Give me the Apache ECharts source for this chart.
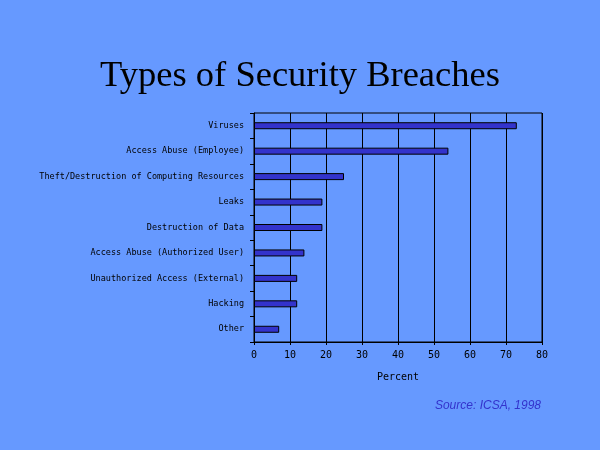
<!DOCTYPE html>
<html>
<head>
<meta charset="utf-8">
<script src="https://cdn.jsdelivr.net/npm/echarts@6/dist/echarts.min.js"></script>
<style>
  html, body { margin: 0; padding: 0; background: #6699ff; }
  #main { width: 600px; height: 450px; }
</style>
</head>
<body>
<div id="main"></div>
<script>
// breach types, top to bottom
var categories = [
  'Viruses',
  'Access Abuse (Employee)',
  'Theft/Destruction of Computing Resources',
  'Leaks',
  'Destruction of Data',
  'Access Abuse (Authorized User)',
  'Unauthorized Access (External)',
  'Hacking',
  'Other'
];
var percents = [73, 54, 25, 19, 19, 14, 12, 12, 7];
var xTicks = { min: 0, max: 80, interval: 10 };

var myChart = echarts.init(document.getElementById('main'));

var option = {
  backgroundColor: '#6699ff',
  animation: false,
  title: [
    {
      text: 'Types of Security Breaches',
      left: 'center',
      top: 53,
      textStyle: {
        fontFamily: 'Liberation Serif',
        fontSize: 36.5,
        fontWeight: 'normal',
        color: '#000000'
      }
    },
    {
      text: 'Source: ICSA, 1998',
      right: 54,
      top: 395,
      textStyle: {
        fontFamily: 'Liberation Sans',
        fontSize: 12,
        fontStyle: 'italic',
        fontWeight: 'normal',
        color: '#3333cc'
      }
    }
  ],
  grid: {
    left: 254,
    right: 58,
    top: 113,
    bottom: 108,
    show: true,
    borderColor: '#000000',
    borderWidth: 1
  },
  xAxis: {
    type: 'value',
    min: xTicks.min,
    max: xTicks.max,
    interval: xTicks.interval,
    name: 'Percent',
    nameLocation: 'middle',
    nameGap: 30,
    nameTextStyle: {
      fontFamily: 'DejaVu Sans Mono',
      fontSize: 10,
      color: '#000000'
    },
    axisLine: { show: true, lineStyle: { color: '#000000', width: 1 } },
    axisTick: { show: true, length: 3, lineStyle: { color: '#000000' } },
    axisLabel: {
      margin: 8,
      fontFamily: 'DejaVu Sans Mono',
      fontSize: 10,
      color: '#000000'
    },
    splitLine: { show: true, lineStyle: { color: '#000000', width: 1 } }
  },
  yAxis: {
    type: 'category',
    data: categories,
    inverse: true,
    axisLine: { show: true, lineStyle: { color: '#000000', width: 1 } },
    axisTick: { show: true, length: 4, lineStyle: { color: '#000000' } },
    axisLabel: {
      margin: 10,
      fontFamily: 'DejaVu Sans Mono',
      fontSize: 8.5,
      color: '#000000'
    },
    splitLine: { show: false }
  },
  series: [
    {
      type: 'bar',
      data: percents,
      barWidth: 7,
      itemStyle: {
        color: '#3333cc',
        borderColor: '#000000',
        borderWidth: 1
      }
    }
  ]
};
myChart.setOption(option);
</script>
</body>
</html>
